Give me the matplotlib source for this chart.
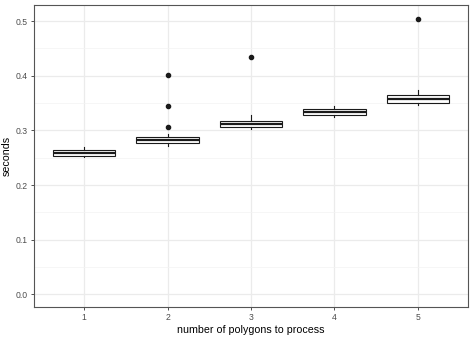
import matplotlib
matplotlib.use('Agg')
import matplotlib.pyplot as plt
from matplotlib.ticker import MultipleLocator

plt.rcParams['font.family'] = ['Liberation Sans', 'DejaVu Sans']

# values
polygons = [1, 2, 3, 4, 5]
whislo = [0.252, 0.272, 0.302, 0.324, 0.346]
q1 = [0.2538, 0.2777, 0.3059, 0.3284, 0.3498]
med = [0.2588, 0.2826, 0.3114, 0.3333, 0.3577]
q3 = [0.2637, 0.288, 0.3168, 0.3394, 0.3645]
whishi = [0.2703, 0.294, 0.3284, 0.3454, 0.374]
outliers = [[], [0.306, 0.345, 0.401], [0.434], [], [0.5048]]
yticks = [0.0, 0.1, 0.2, 0.3, 0.4, 0.5]

stats = []
for i in range(len(polygons)):
    stats.append({'whislo': whislo[i], 'q1': q1[i], 'med': med[i],
                  'q3': q3[i], 'whishi': whishi[i], 'fliers': outliers[i]})

fig = plt.figure(figsize=(4.74, 3.38), dpi=100)
ax = fig.add_axes([34/474, 31.3/338, 434/474, 301.4/338])

ax.bxp(stats, positions=polygons, widths=0.75, patch_artist=True,
       showcaps=False,
       boxprops=dict(facecolor='white', edgecolor='#1a1a1a', linewidth=0.8),
       medianprops=dict(color='#1a1a1a', linewidth=1.6),
       whiskerprops=dict(color='#1a1a1a', linewidth=0.8),
       flierprops=dict(marker='o', markerfacecolor='#1a1a1a',
                       markeredgecolor='#1a1a1a', markersize=3),
       zorder=3)

ax.set_xlim(0.4, 5.6)
ax.set_ylim(-0.0227, 0.529)
ax.set_xticks(polygons)
ax.set_xticklabels([str(p) for p in polygons])
ax.set_yticks(yticks)
ax.set_yticklabels(['%.1f' % t for t in yticks])
ax.yaxis.set_minor_locator(MultipleLocator(0.05))

ax.grid(True, which='major', color='#EBEBEB', linewidth=0.9, zorder=0)
ax.grid(True, which='minor', axis='y', color='#F3F3F3', linewidth=0.5, zorder=0)
ax.set_axisbelow(True)

for s in ax.spines.values():
    s.set_color('#555555')
    s.set_linewidth(0.8)

ax.tick_params(which='major', length=2.5, width=0.6, color='#333333',
               labelsize=6.2, labelcolor='#4D4D4D', pad=2)
ax.tick_params(which='minor', length=0)

ax.set_xlabel('number of polygons to process', fontsize=7.7, labelpad=2)
ax.set_ylabel('seconds', fontsize=7.7, labelpad=3)

fig.savefig('out.png', dpi=100)
